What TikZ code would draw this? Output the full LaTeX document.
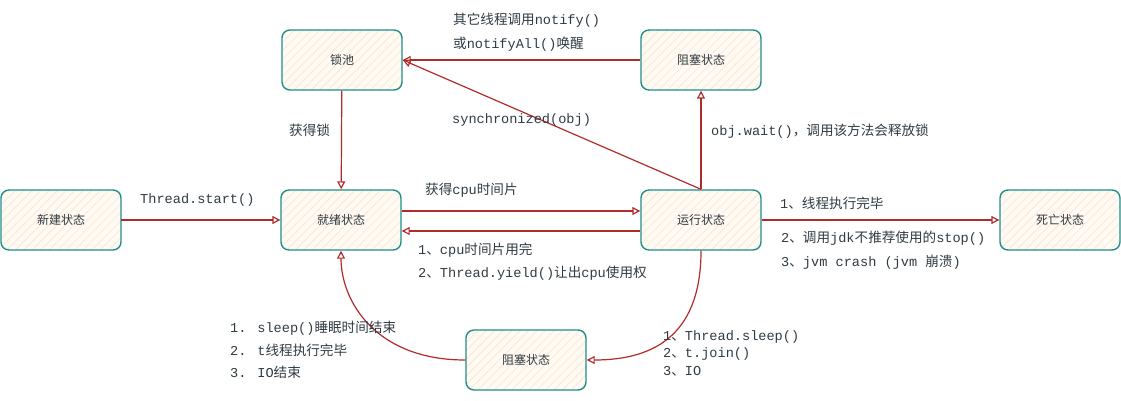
\documentclass[tikz,border=0pt]{standalone}
\usepackage{fontspec}
\setmainfont{Liberation Mono}
\newfontfamily\zh{Noto Sans CJK SC}
\usetikzlibrary{arrows.meta,patterns.meta}
\definecolor{boxteal}{HTML}{1F8F89}
\definecolor{boxfill}{HTML}{FFFAF3}
\definecolor{hatch}{HTML}{FCE8D2}
\definecolor{linkred}{HTML}{B22B2B}
\definecolor{textgray}{HTML}{2F3B42}
\newcommand{\cn}[1]{{\zh #1}}
\begin{document}
\begin{tikzpicture}[x=1pt,y=-1pt,
    state/.style={draw=boxteal,line width=1.4pt,rounded corners=8pt,
        minimum width=120pt,minimum height=60pt,inner sep=0pt,
        preaction={fill=boxfill},
        pattern={Lines[angle=45,distance=6pt,line width=.8pt]},pattern color=hatch,
        text=textgray,font=\zh\fontsize{12}{14}\selectfont},
    link/.style={draw=linkred,line width=1.2pt,-{Triangle[open,length=8pt,width=8pt]}},
    note/.style={anchor=west,inner sep=0pt,text=textgray,font=\fontsize{13.6}{16}\selectfont}]
    \useasboundingbox (0,0) rectangle (1121,401);
    % states
    \node[state] (xinjian) at (61,220) {新建状态};
    \node[state] (jiuxu) at (341,220) {就绪状态};
    \node[state] (suochi) at (342,60) {锁池};
    \node[state] (zuseA) at (701,60) {阻塞状态};
    \node[state] (yunxing) at (701,220) {运行状态};
    \node[state] (siwang) at (1060,220) {死亡状态};
    \node[state] (zuseB) at (526,360) {阻塞状态};
    % transitions
    \draw[link] (xinjian) -- (jiuxu);
    \draw[link] ([yshift=9pt]jiuxu.east) -- ([yshift=9pt]yunxing.west);
    \draw[link] ([yshift=-11pt]yunxing.west) -- ([yshift=-11pt]jiuxu.east);
    \draw[link] (yunxing) -- (siwang);
    \draw[link] (yunxing) -- (zuseA);
    \draw[link] (zuseA) -- (suochi);
    \draw[link] (yunxing.north) -- (suochi.east);
    \draw[link] (suochi) -- (jiuxu);
    \draw[link] (yunxing.south) .. controls +(0,80) and +(72,0) .. (zuseB.east);
    \draw[link] (zuseB.west) .. controls +(-90,0) and +(0,50) .. (jiuxu.south);
    % labels
    \node[note] (start) at (140,200) {Thread.start()};
    \node[note] (getcpu) at (425,190) {\cn{获得}cpu\cn{时间片}};
    \node[note] (lostA) at (418,250) {1\cn{、}cpu\cn{时间片用完}};
    \node[note] (lostB) at (418,273) {2\cn{、}Thread.yield()\cn{让出}cpu\cn{使用权}};
    \node[note] (deadA) at (780,203) {1\cn{、线程执行完毕}};
    \node[note] (deadB) at (781,238) {2\cn{、调用}jdk\cn{不推荐使用的}stop()};
    \node[note] (deadC) at (781,262) {3\cn{、}jvm crash (jvm \cn{崩溃})};
    \node[note] (wait) at (711,131) {obj.wait()\cn{，调用该方法会释放锁}};
    \node[note] (notifyA) at (453,20) {\cn{其它线程调用}notify()};
    \node[note] (notifyB) at (453,44) {\cn{或}notifyAll()\cn{唤醒}};
    \node[note] (sync) at (452,120) {synchronized(obj)};
    \node[note] (getlock) at (289,130) {\cn{获得锁}};
    \node[note] (wakeA) at (230,328) {1. sleep()\cn{睡眠时间结束}};
    \node[note] (wakeB) at (230,350) {2. t\cn{线程执行完毕}};
    \node[note] (wakeC) at (230,372) {3. IO\cn{结束}};
    \node[note] (blockA) at (663,337) {1\cn{、}Thread.sleep()};
    \node[note] (blockB) at (663,354) {2\cn{、}t.join()};
    \node[note] (blockC) at (663,371) {3\cn{、}IO};
\end{tikzpicture}
\end{document}
